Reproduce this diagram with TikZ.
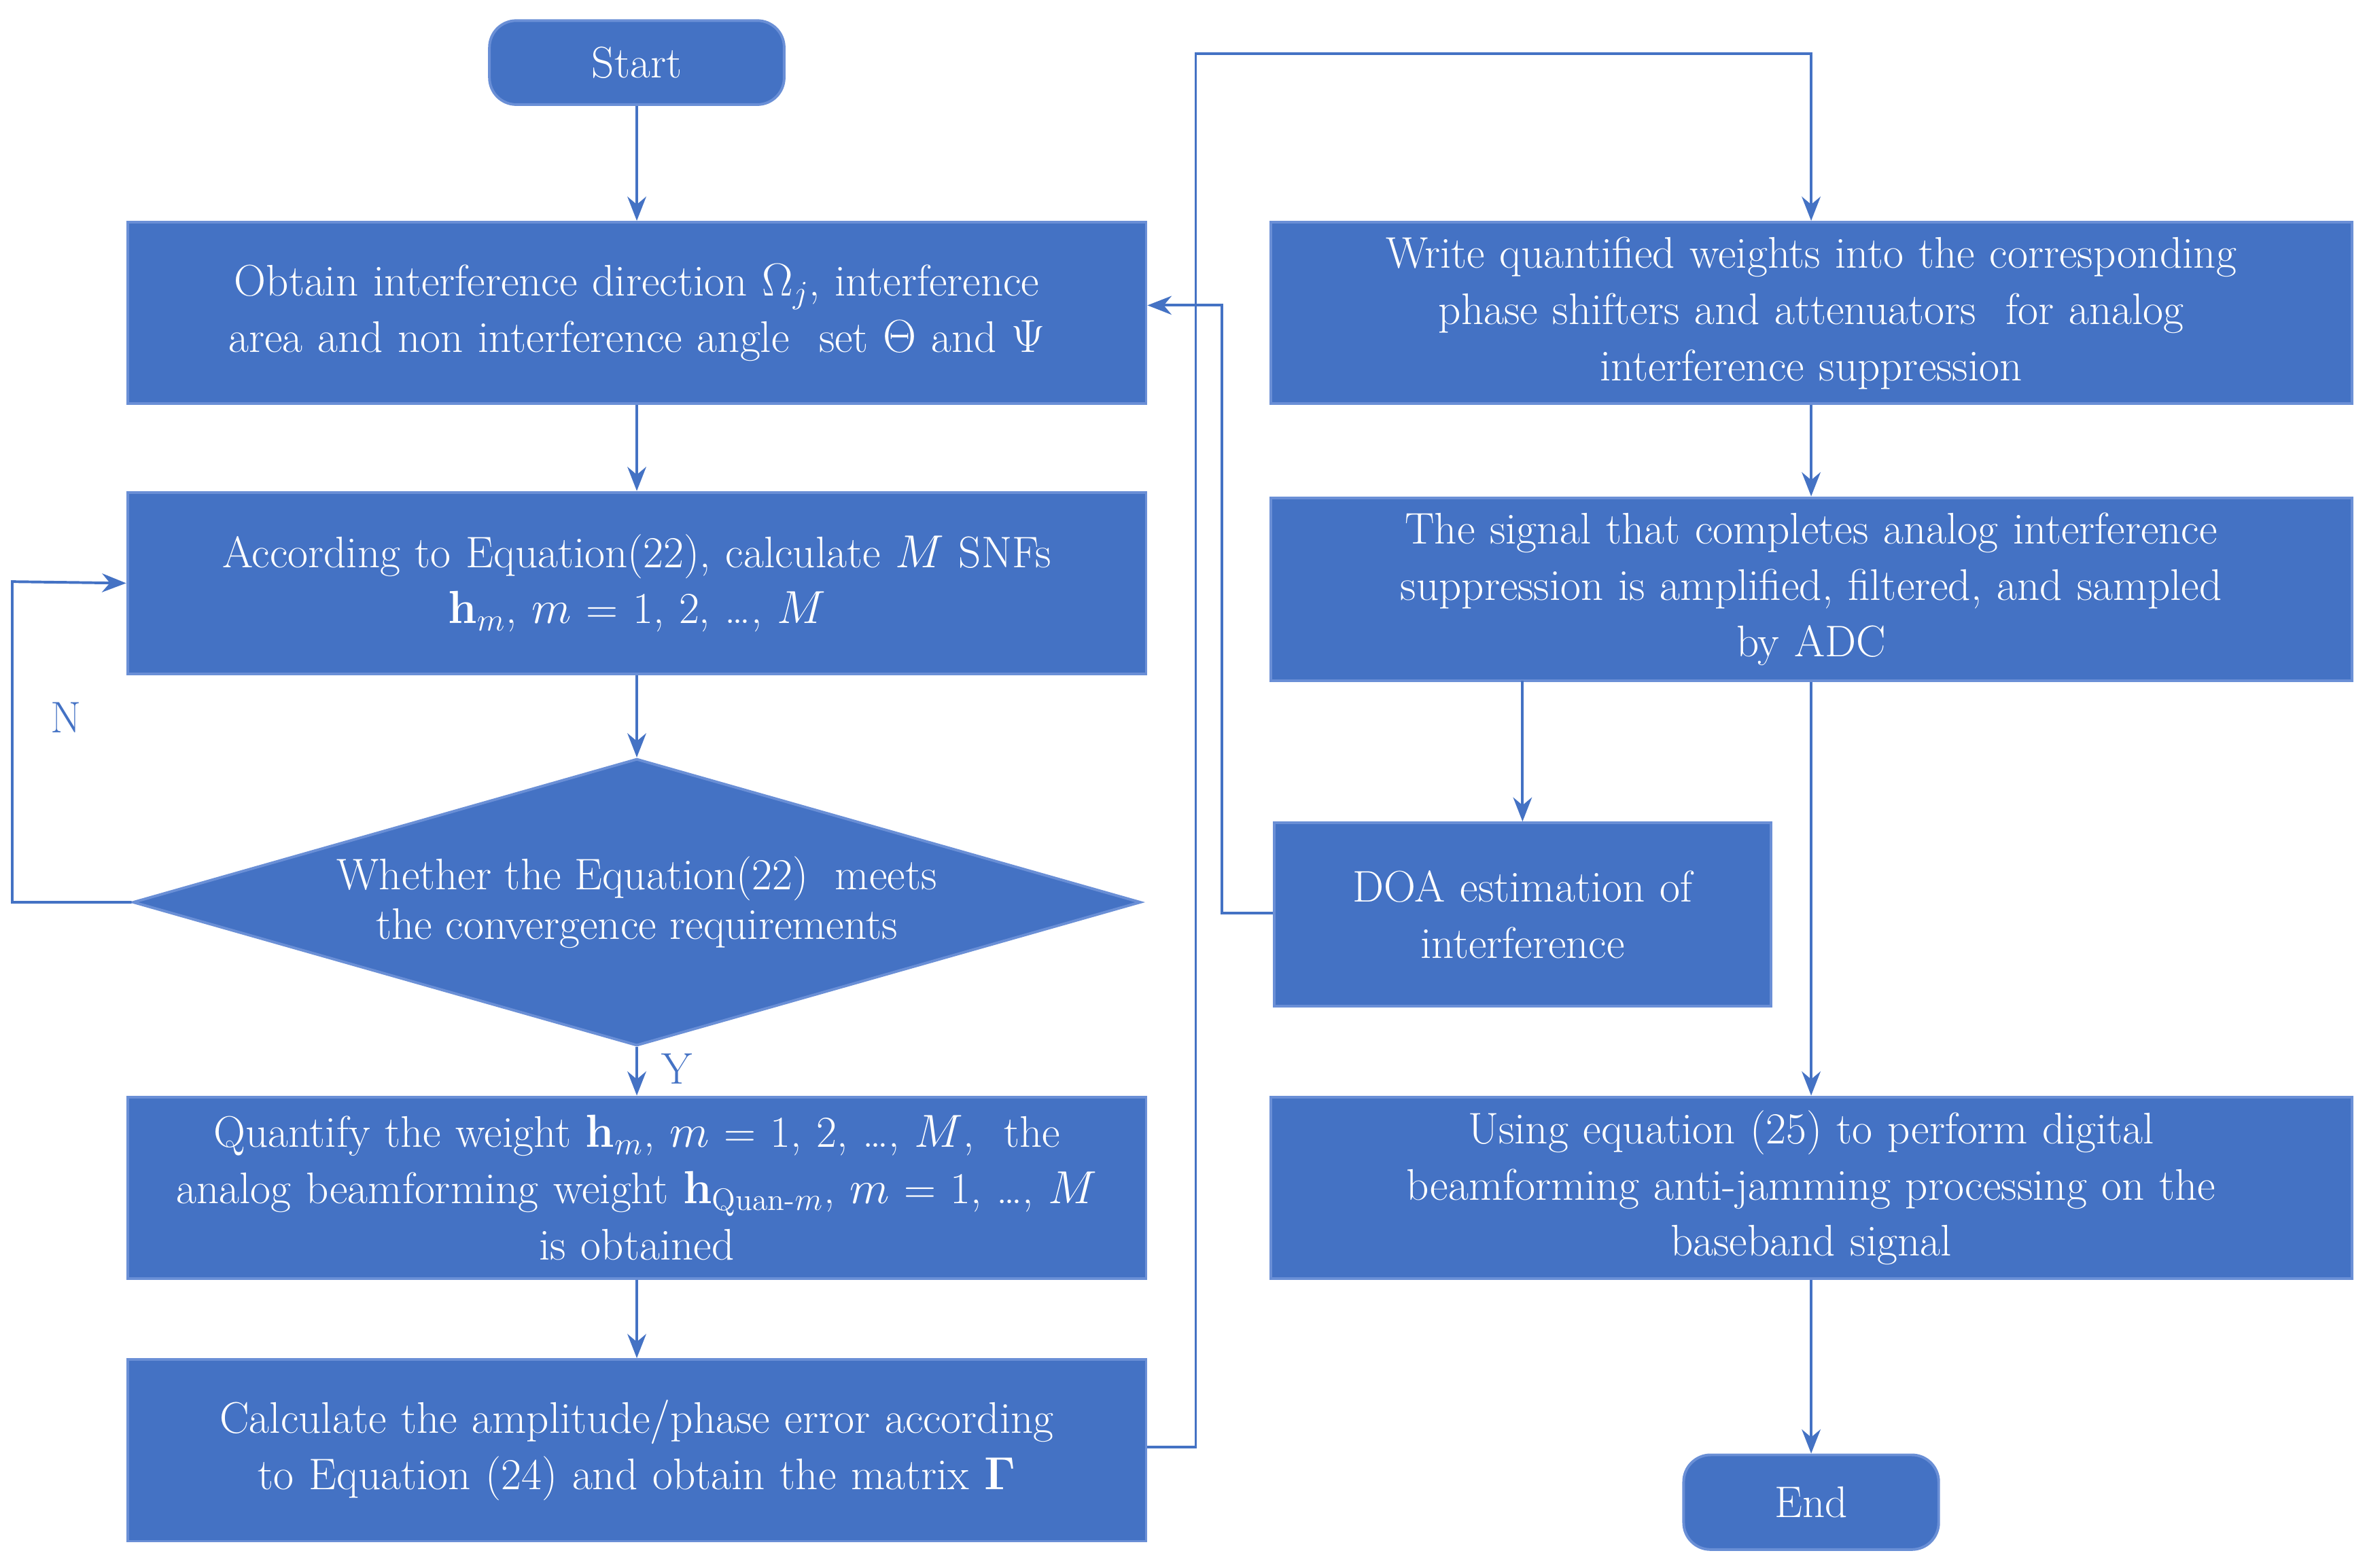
\documentclass[tikz,border=0pt]{standalone}
\usepackage{amsmath,bm}
\usetikzlibrary{shapes.geometric,arrows.meta}
\definecolor{bl}{HTML}{4472C4}
\definecolor{bd}{HTML}{6A8FD6}
\begin{document}
\begin{tikzpicture}[x=0.02cm,y=-0.02cm,
 every node/.style={text=white,font=\fontsize{16.5}{21}\selectfont},
 box/.style={draw=bd,fill=bl,line width=1pt,align=center,inner sep=0pt},
 ln/.style={draw=bl,line width=1pt,-{Stealth[length=9pt,width=7pt]}},
 lab/.style={text=bl}]
\useasboundingbox (0,0) rectangle (1550,1027);
\node[box,rounded corners=10pt,minimum width=193*0.02cm,minimum height=55*0.02cm] (st) at (417,41) {Start};
\node[box,minimum width=667*0.02cm,minimum height=119*0.02cm,text width=660*0.02cm] (b1) at (417,205) {Obtain interference direction $\Omega_j$,\ interference\\ area and non interference angle\ \ set $\Theta$ and $\Psi$};
\node[box,minimum width=667*0.02cm,minimum height=119*0.02cm,text width=660*0.02cm] (b2) at (417,382) {According to Equation(22), calculate $M$ SNFs\\ $\mathbf{h}_m$, $m$ = 1, 2, \ldots, $M$};
\node[box,diamond,aspect=3.5,minimum width=660*0.02cm,minimum height=188*0.02cm] (d) at (417,591) {};
\node at (417,591) {\shortstack{Whether the Equation(22)\ \ meets\\ the convergence requirements}};
\node[box,minimum width=667*0.02cm,minimum height=119*0.02cm,text width=665*0.02cm] (b3) at (417,778) {Quantify the weight $\mathbf{h}_m$, $m$ = 1, 2, \ldots, $M$,\ \ the\\ analog beamforming weight $\mathbf{h}_{\text{Quan-}m}$, $m$ = 1, \ldots, $M$\\ is obtained};
\node[box,minimum width=667*0.02cm,minimum height=119*0.02cm,text width=660*0.02cm] (b4) at (417,950) {Calculate the amplitude/phase error according\\ to Equation (24) and obtain the matrix $\bm{\Gamma}$};
\node[box,minimum width=708*0.02cm,minimum height=119*0.02cm,text width=700*0.02cm] (r1) at (1186,205) {Write quantified weights into the corresponding\\ phase shifters and attenuators\ \ for analog\\ interference suppression};
\node[box,minimum width=708*0.02cm,minimum height=120*0.02cm,text width=700*0.02cm] (r2) at (1186,386) {The signal that completes analog interference\\ suppression is amplified, filtered, and sampled\\ by ADC};
\node[box,minimum width=325*0.02cm,minimum height=120*0.02cm,text width=320*0.02cm] (doa) at (997,599) {DOA estimation of\\ interference};
\node[box,minimum width=708*0.02cm,minimum height=119*0.02cm,text width=700*0.02cm] (r3) at (1186,778) {Using equation (25) to perform digital\\ beamforming anti-jamming processing on the\\ baseband signal};
\node[box,rounded corners=10pt,minimum width=167*0.02cm,minimum height=62*0.02cm] (en) at (1186,984) {End};
\draw[ln] (st) -- (b1);
\draw[ln] (b1) -- (b2);
\draw[ln] (b2) -- (d);
\draw[ln] (d) -- (b3);
\node[lab,anchor=west] at (427,700) {Y};
\draw[ln] (b3) -- (b4);
\draw[ln] (d.west) -- (8,591) -- (8,381) -- (b2.west);
\node[lab] at (43,470) {N};
\coordinate (c1) at (783,948);
\coordinate (c2) at (783,35);
\coordinate (c3) at (1186,35);
\draw[ln] (b4.east|-c1) -- (c1) -- (c2) -- (c3) -- (r1.north);
\draw[ln] (r1) -- (r2);
\draw[ln] (997,446) -- (doa.north);
\draw[ln] (r2.south) -- (r3.north);
\draw[ln] (r3) -- (en);
\coordinate (c4) at (800,598);
\coordinate (c5) at (800,200);
\draw[ln] (doa.west|-c4) -- (c4) -- (c5) -- (b1.east|-c5);
\end{tikzpicture}
\end{document}
